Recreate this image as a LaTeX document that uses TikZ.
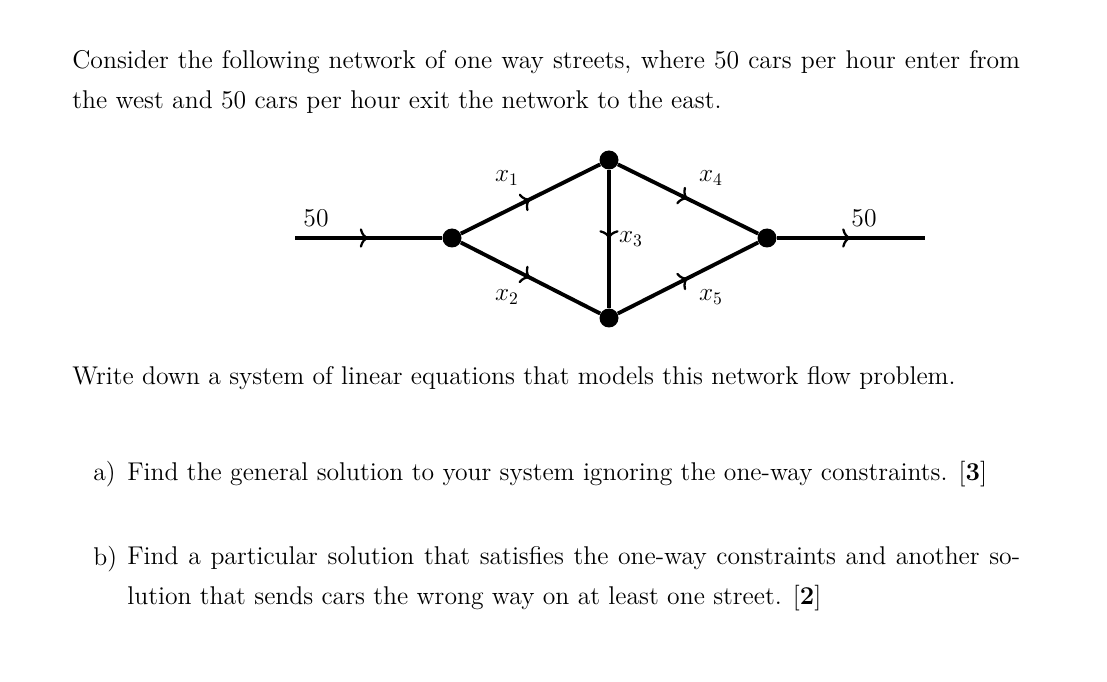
\documentclass[tikz,border=0pt]{standalone}
\usetikzlibrary{decorations.markings,arrows.meta}
\begin{document}
\begin{tikzpicture}[x=0.02cm,y=-0.02cm,
  txt/.style={anchor=north west,inner sep=0pt,font=\fontsize{14.6}{23}\selectfont,align=justify},
  lbl/.style={font=\fontsize{14.6}{16}\selectfont,inner sep=0pt},
  dot/.style={circle,fill=black,minimum size=0.38cm,inner sep=0pt},
  street/.style={line width=2.2pt,postaction={decorate},decoration={markings,mark=at position 0.5 with {\arrow[line width=1.3pt]{To[length=5pt,width=11pt]}}}}]
\useasboundingbox (0,0) rectangle (1107,682);
\node[txt,text width=18.96cm] (p1) at (72,50) {Consider the following network of one way streets, where 50 cars per hour enter from\linebreak the west and 50 cars per hour exit the network to the east.};
\node[dot] (A) at (452,238) {};
\node[dot] (T) at (609,160) {};
\node[dot] (B) at (609,318) {};
\node[dot] (R) at (767,238) {};
\coordinate (W) at (295,238);
\coordinate (E) at (925,238);
\draw[street] (W) -- (A);
\draw[street] (A) -- (T);
\draw[street] (A) -- (B);
\draw[street] (T) -- (B);
\draw[street] (T) -- (R);
\draw[street] (B) -- (R);
\draw[street] (R) -- (E);
\node[lbl] (l1) at (316,218) {50};
\node[lbl] (l2) at (864,218) {50};
\node[lbl] (x1) at (507,178) {$x_1$};
\node[lbl] (x2) at (507,297) {$x_2$};
\node[lbl] (x3) at (631,239) {$x_3$};
\node[lbl] (x4) at (711,178) {$x_4$};
\node[lbl] (x5) at (711,297) {$x_5$};
\node[txt] (p2) at (72,366) {Write down a system of linear equations that models this network flow problem.};
\node[txt] (la) at (93,461) {a)};
\node[txt] (pa) at (127,461) {Find the general solution to your system ignoring the one-way constraints. [\textbf{3}]};
\node[txt] (lb) at (93,546) {b)};
\node[txt,text width=17.86cm] (pb) at (127,546) {Find a particular solution that satisfies the one-way constraints and another so-\linebreak lution that sends cars the wrong way on at least one street. [\textbf{2}]};
\end{tikzpicture}
\end{document}
